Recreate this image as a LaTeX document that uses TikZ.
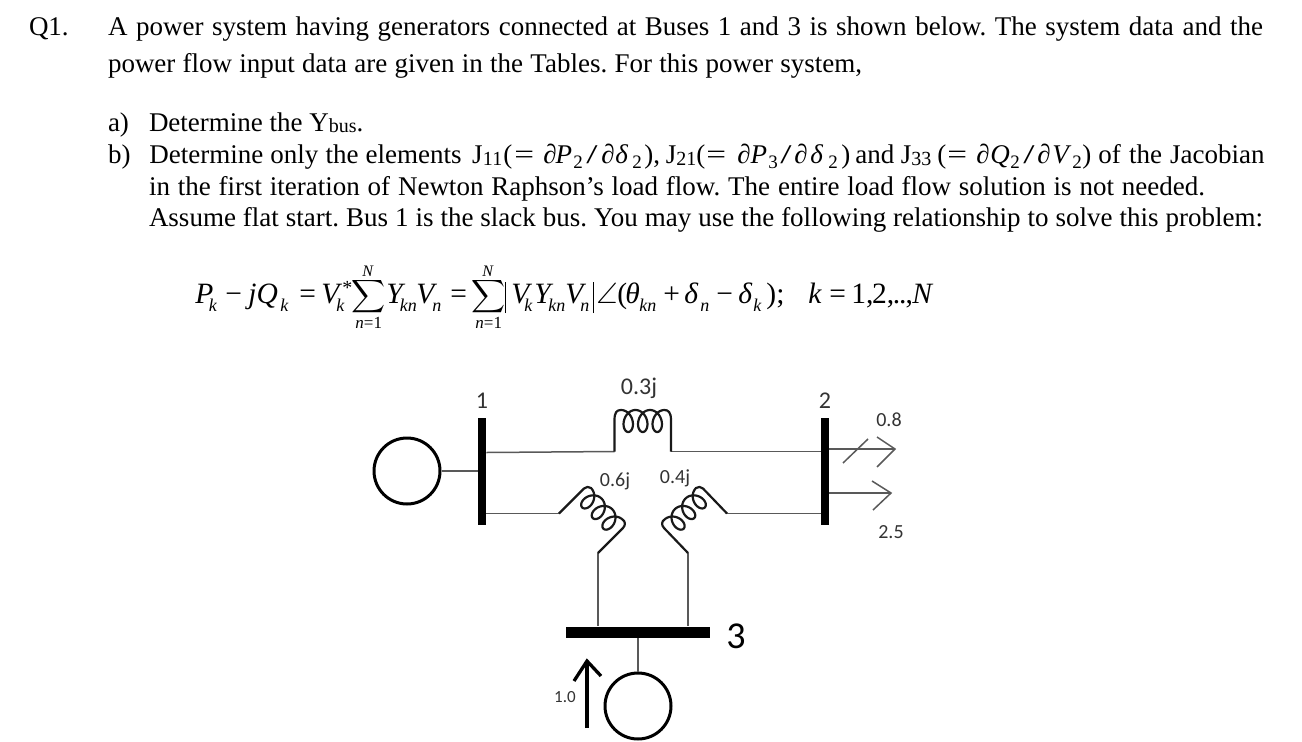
\documentclass[tikz,border=0pt]{standalone}
\usepackage{graphicx}
\usepackage{amsmath}
\usepackage{amssymb}
\usepackage{fontspec}
\setmainfont{Liberation Serif}
\newfontfamily\calfont{Carlito}
\usetikzlibrary{calc}
\newcommand\abs[2]{\rlap{\kern#1pt\relax #2}}
\newcommand\vi[1]{\textit{#1}}
\newcommand\sbi[1]{\raisebox{-8pt}{\fontsize{18}{18}\selectfont\textit{#1}}}
\newcommand\sbd[1]{\raisebox{-5pt}{\fontsize{19}{19}\selectfont #1}}
\newcommand\sbj[1]{\raisebox{-2pt}{\fontsize{20}{20}\selectfont #1}}
\newcommand\limN{\raisebox{27pt}{\fontsize{16}{16}\selectfont\textit{N}}}
\newcommand\limn{\raisebox{-25pt}{\fontsize{17}{17}\selectfont\textit{n}=1}}
\newcommand\vbar{\raisebox{-10pt}{\rule{1pt}{31pt}}}
\newcommand\bigsum{\raisebox{1.5pt}{\scalebox{0.8}[0.78]{$\displaystyle\sum$}}}
\newcommand\weq{\scalebox{1.3}[1]{=}}
\newcommand\wsl{\scalebox{1.5}[1]{/}}
\tikzset{
 para/.style={anchor=base west,inner sep=0pt,outer sep=0pt,font=\fontsize{27}{27}\selectfont\frenchspacing},
 wire/.style={draw=black!65,line width=1.5pt},
 coilline/.style={draw=black!90,line width=2.2pt,line join=round},
 gen/.style={circle,draw=black,line width=3pt,minimum size=66pt,inner sep=0pt,fill=none},
 busbar/.style={fill=black,draw=none,inner sep=0pt},
 lab/.style={inner sep=0pt,text=black!80},
}
\begin{document}
\begin{tikzpicture}[x=1pt,y=-1pt]
\useasboundingbox (0,0) rectangle (1302,742);
% text
\node[para] (q) at (29,35) {Q1.};
\node[para] (l1) at (108,35) {\hbox to 1155pt{A power system having generators connected at Buses 1 and 3 is shown below. The system data and the}};
\node[para] (l2) at (108,72) {\hbox to 754pt{power flow input data are given in the Tables. For this power system,}};
\node[para] (a) at (108,131) {a)};
\node[para] (a1) at (149,131) {Determine the Y{\fontsize{20}{20}\selectfont\raisebox{-1pt}{bus}}.};
\node[para] (b) at (108,163) {b)};
\node[para] (b1) at (0,163) {\hbox{%
\abs{149}{\hbox to 312pt{Determine only the elements}}%
\abs{471.5}{J}\abs{482.5}{\sbj{11}}\abs{503}{(}\abs{514}{\weq}\abs{543}{\vi{∂}}\abs{555}{\vi{P}}\abs{573}{\sbd{2}}\abs{586}{\wsl}\abs{601}{\vi{∂}}\abs{615}{\vi{δ}}\abs{632}{\sbd{2}}\abs{644}{)}\abs{653}{,}%
\abs{665.5}{J}\abs{676}{\sbj{21}}\abs{696}{(}\abs{706}{\weq}\abs{737}{\vi{∂}}\abs{750}{\vi{P}}\abs{768}{\sbd{3}}\abs{780}{\wsl}\abs{794}{\vi{∂}}\abs{810}{\vi{δ}}\abs{828}{\sbd{2}}\abs{841}{)}%
\abs{855}{and}\abs{900.5}{J}\abs{911}{\sbj{33}}\abs{937}{(}\abs{947}{\weq}\abs{976}{\vi{∂}}\abs{990}{\vi{Q}}\abs{1010}{\sbd{2}}\abs{1023}{\wsl}\abs{1037}{\vi{∂}}\abs{1052}{\vi{V}}\abs{1072}{\sbd{2}}\abs{1082}{)}%
\abs{1098}{\hbox to 166pt{of the Jacobian}}}};
\node[para] (b2) at (149,195) {\hbox to 1056pt{in the first iteration of Newton Raphson’s load flow. The entire load flow solution is not needed.}};
\node[para] (b3) at (149,226) {\hbox to 1114pt{Assume flat start. Bus 1 is the slack bus. You may use the following relationship to solve this problem:}};
% equation
\node[para,font=\fontsize{29.5}{30}\selectfont] (eq) at (0,303) {\hbox{%
\abs{195}{\vi{P}}\abs{208.5}{\sbi{k}}\abs{225}{−}\abs{248}{\vi{jQ}}\abs{280}{\sbi{k}}\abs{299}{=}%
\abs{321}{\vi{V}}\abs{336}{\sbi{k}}\abs{342}{\raisebox{9pt}{\fontsize{20}{20}\selectfont *}}%
\abs{351}{\bigsum}\abs{362}{\limN}\abs{355}{\limn}%
\abs{386}{\vi{Y}}\abs{399.5}{\sbi{kn}}\abs{416}{\vi{V}}\abs{432}{\sbi{n}}\abs{450}{=}%
\abs{471}{\bigsum}\abs{482}{\limN}\abs{475}{\limn}%
\abs{505}{\vbar}\abs{511}{\vi{V}}\abs{524}{\sbi{k}}\abs{534}{\vi{Y}}\abs{548}{\sbi{kn}}\abs{565}{\vi{V}}\abs{580}{\sbi{n}}\abs{593}{\vbar}%
\abs{596}{$\angle$}\abs{617}{(}\abs{625}{\vi{θ}}\abs{639}{\sbi{kn}}\abs{663}{+}\abs{684}{\vi{δ}}\abs{700}{\sbi{n}}\abs{716}{−}\abs{738}{\vi{δ}}\abs{753}{\sbi{k}}\abs{766}{)}\abs{776}{;}%
\abs{808}{\vi{k}}\abs{829}{=}\abs{851}{1,\kern-1.5pt 2,\kern-1.5pt.\kern-1pt.\kern-1pt,}\abs{912}{\vi{N}}}};
% generators and buses
\node[gen] (g1) at (407,471) {};
\node[gen] (g3) at (638,706) {};
\node[busbar,minimum width=8.5pt,minimum height=107pt] (b1bar) at (482,471) {};
\node[busbar,minimum width=8.5pt,minimum height=107pt] (b2bar) at (825,471) {};
\node[busbar,minimum width=144pt,minimum height=11pt] (b3bar) at (638,632) {};
\draw[wire] (g1.east) -- (b1bar.west |- g1.east);
\draw[wire] (g3.north) -- (b3bar.south);
% coordinates
\coordinate (t1) at (614.5,451.5);
\coordinate (t2) at (671,451.5);
\coordinate (l1c) at (559,513.5);
\coordinate (l2c) at (598,553);
\coordinate (r1c) at (727,513.5);
\coordinate (r2c) at (688,553);
\draw[wire] (b1bar.east |- 0,452.5) -- (t1);
\draw[wire] (t2) -- (b2bar.west |- t2);
\draw[wire] (b1bar.east |- l1c) -- (l1c);
\draw[wire] (r1c) -- (b2bar.west |- r1c);
\draw[wire] (l2c) -- (l2c |- b3bar.north);
\draw[wire] (r2c) -- (r2c |- b3bar.north);
% coils
\draw[coilline] (t1) -- (614.5,420) .. controls (614.5,412) and (617,410) .. (621,410)
 -- plot[domain=0:1080,samples=120,smooth] ({621+\x/360*14.5+8*sin(\x)},{410+11*(1-cos(\x))})
 .. controls (668,410) and (671,412) .. (671,420) -- (t2);
\draw[coilline] (l1c) -- (584,488.5) .. controls (586,486.5) and (589,486.5) .. (591,488)
 -- plot[domain=0:1080,samples=120,smooth] ({591+.707*(\x/360*15+8*sin(\x))-.707*10*(1-cos(\x))},{488+.707*(\x/360*15+8*sin(\x))+.707*10*(1-cos(\x))})
 .. controls (625,521) and (626,525) .. (623,528) -- (l2c);
\draw[coilline] (r1c) -- (703,488.5) .. controls (701,486.5) and (698,486.5) .. (696,488)
 -- plot[domain=0:1080,samples=120,smooth] ({696-.707*(\x/360*15+8*sin(\x))+.707*10*(1-cos(\x))},{488+.707*(\x/360*15+8*sin(\x))+.707*10*(1-cos(\x))})
 .. controls (662,521) and (661,525) .. (664,528) -- (r2c);
% load arrows
\coordinate (ar1) at (895,449);
\coordinate (ar2) at (891,493);
\draw[wire] (b2bar.east |- ar1) -- (ar1);
\draw[wire] (b2bar.east |- ar2) -- (ar2);
\draw[wire] (877,437) -- (ar1) -- (877,467);
\draw[wire] (872,481) -- (ar2) -- (873,510);
\draw[wire] (843,463) -- (868,439);
% gen arrow
\coordinate (ga1) at (587,728);
\coordinate (ga2) at (587,661);
\draw[draw=black,line width=3.3pt] (ga1) -- (ga2);
\draw[draw=black,line width=3.3pt] (574,681) -- (ga2) -- (601,676);
% labels
\node[lab,font=\calfont\fontsize{24}{24}\selectfont] (tb1) at (639,388) {0.3j};
\node[lab,font=\calfont\fontsize{24}{24}\selectfont] (tn1) at (482,401) {1};
\node[lab,font=\calfont\fontsize{24}{24}\selectfont] (tn2) at (825,401) {2};
\node[lab,text=black,font=\calfont\fontsize{38}{38}\selectfont] (tn3) at (736,636) {3};
\node[lab,font=\calfont\fontsize{20}{20}\selectfont] (t06) at (615,481) {0.6j};
\node[lab,font=\calfont\fontsize{20}{20}\selectfont] (t04) at (675,478) {0.4j};
\node[lab,font=\calfont\fontsize{20}{20}\selectfont] (t08) at (889,420) {0.8};
\node[lab,font=\calfont\fontsize{20}{20}\selectfont] (t25) at (891,532) {2.5};
\node[lab,font=\calfont\fontsize{17}{17}\selectfont] (t10) at (565,697) {1.0};
\end{tikzpicture}
\end{document}
